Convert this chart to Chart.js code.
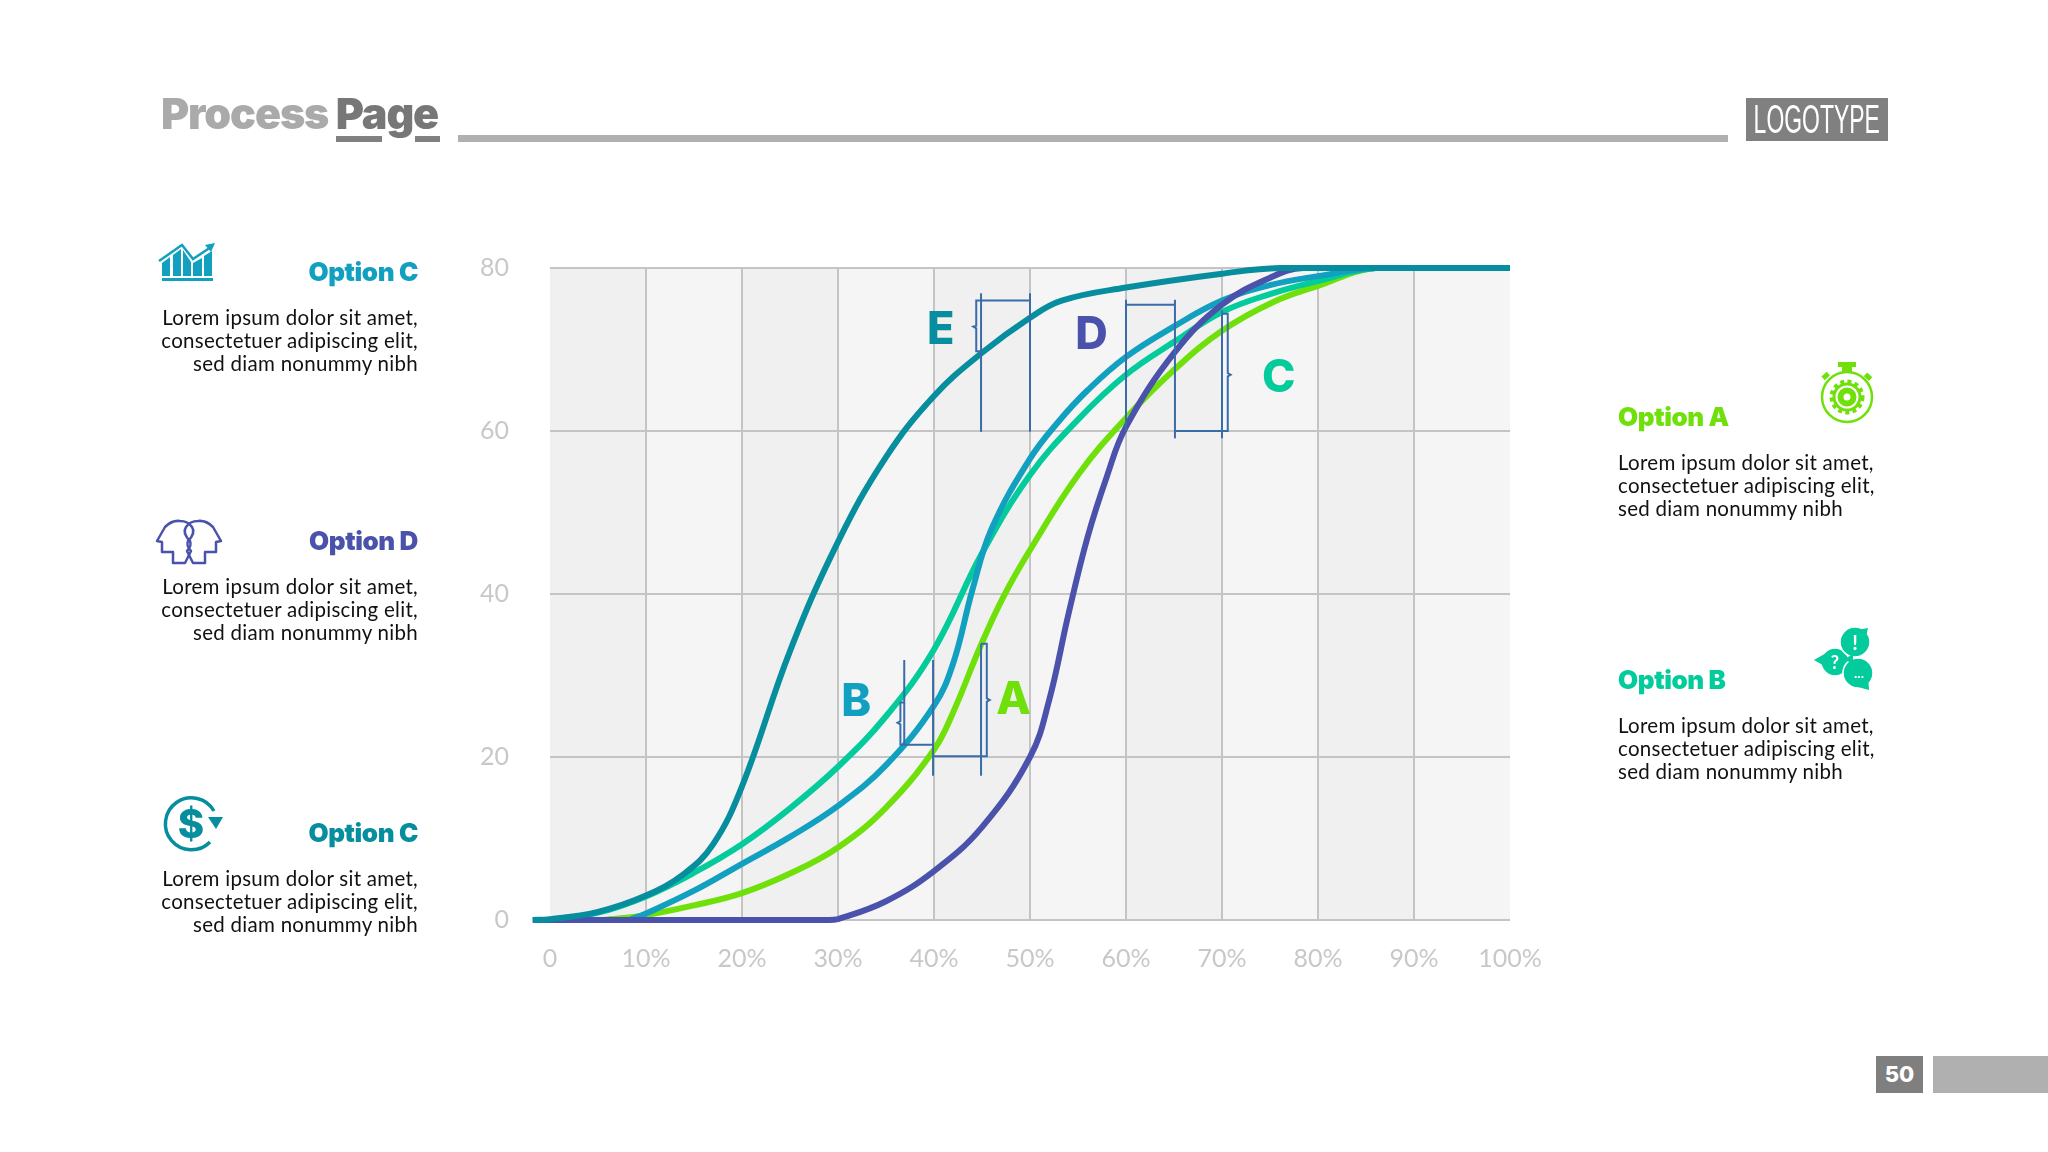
<!DOCTYPE html>
<html>
<head>
<meta charset="utf-8">
<title>Process Page</title>
<script src="https://cdn.jsdelivr.net/npm/chart.js@4/dist/chart.umd.min.js"></script>
<style>
  html, body { margin: 0; padding: 0; background: #fff; }
  #page { position: relative; width: 2048px; height: 1152px; overflow: hidden; font-family: Lato, sans-serif; }
  #chart { position: absolute; left: 0; top: 0; }
  #art { position: absolute; left: 0; top: 0; }
  .box { position: absolute; }
  .title { left: 161px; top: 88px; font-family: Inter, sans-serif; font-size: 43px; font-weight: 900; line-height: 50px; letter-spacing: -1.1px; color: #aaa; white-space: pre; }
  .title b { color: #777; font-weight: 900; }
  .logo { left: 1746px; top: 98px; width: 142px; height: 43px; background: #808080; color: #fff; display: flex; justify-content: center; align-items: center; overflow: hidden; }
  .logo span { font-family: "Liberation Sans", sans-serif; font-size: 41px; white-space: nowrap; transform: scaleX(0.56); }
  .num { left: 1876px; top: 1056px; width: 47px; height: 37px; line-height: 37px; background: #7f7f7f; color: #fff; font-family: Inter, sans-serif; font-size: 22px; font-weight: 800; text-align: center; }
  .bar { left: 1933px; top: 1056px; width: 115px; height: 37px; background: #b0b0b0; }
  .note { width: 320px; }
  .note h3 { margin: 0 0 18px; font-family: Inter, sans-serif; font-size: 26px; line-height: 32px; font-weight: 900; letter-spacing: -0.4px; }
  .note p { margin: 0; font-size: 20.5px; line-height: 23px; color: #111; letter-spacing: 0.28px; white-space: pre; }
  .left { left: 98px; text-align: right; }
  .right { left: 1618px; }
</style>
</head>
<body>
<div id="page">
  <canvas id="chart" width="2048" height="1152"></canvas>

  <svg id="art" width="2048" height="1152" viewBox="0 0 2048 1152">
    <!-- header rule and the underline under Page -->
    <rect x="458" y="135" width="1270" height="7" fill="#b0b0b0"/>
    <rect x="336" y="136" width="46" height="6" fill="#808080"/>
    <rect x="415" y="136" width="25" height="6" fill="#808080"/>

    <!-- bars icon -->
    <g fill="#12a0c0">
      <polygon points="162,263 170,257 170,276 162,276"/>
      <polygon points="173,255 181,249 181,276 173,276"/>
      <polygon points="183,250 191,262 191,276 183,276"/>
      <polygon points="193,263 202,258 202,276 193,276"/>
      <polygon points="204,256 212,251 212,276 204,276"/>
      <rect x="162" y="278" width="51" height="3"/>
      <polyline points="159,261 182,245 193,259 211,247" fill="none" stroke="#12a0c0" stroke-width="2.5"/>
      <polygon points="215,243 205,245 211,252"/>
    </g>

    <!-- heads icon -->
    <g fill="none" stroke="#4a52ab" stroke-width="2.5" stroke-linejoin="round">
      <path id="head" d="M173,563 V552 H162 V542 L157,541 L165,527 Q172,520 180,521 Q188,521 192,527 Q196,533 188,541 Q186,546 191,551 L185,563 Z"/>
      <use href="#head" transform="translate(378,0) scale(-1,1)"/>
    </g>

    <!-- dollar icon -->
    <g>
      <path d="M214,811 A26,26 0 1 0 210,842" fill="none" stroke="#068e9e" stroke-width="3.5"/>
      <polygon points="208,817 223,817 216,829" fill="#068e9e"/>
      <text x="191" y="838" text-anchor="middle" font-family="Inter" font-weight="800" font-size="40" fill="#068e9e">$</text>
    </g>

    <!-- stopwatch icon -->
    <g>
      <circle cx="1847" cy="397" r="25" fill="none" stroke="#6fe00a" stroke-width="2.5"/>
      <rect x="1838" y="362" width="18" height="5" fill="#6fe00a"/>
      <rect x="1842" y="367" width="10" height="6" fill="#6fe00a"/>
      <rect x="1822" y="374" width="7" height="5" transform="rotate(-42 1825 376)" fill="#6fe00a"/>
      <rect x="1865" y="374" width="7" height="5" transform="rotate(42 1868 376)" fill="#6fe00a"/>
      <circle cx="1847" cy="397" r="15.5" fill="none" stroke="#6fe00a" stroke-width="4" stroke-dasharray="4 3.3"/>
      <circle cx="1847" cy="397" r="14.5" fill="#6fe00a"/>
      <circle cx="1847" cy="397" r="10.5" fill="none" stroke="#fff" stroke-width="2"/>
      <circle cx="1847" cy="397" r="3.5" fill="#fff"/>
    </g>

    <!-- speech bubbles icon -->
    <g fill="#03cb9b" stroke="#fff" stroke-width="1.5">
      <circle cx="1835" cy="662" r="14"/>
      <circle cx="1855" cy="642" r="15"/>
      <circle cx="1858" cy="673" r="15"/>
      <g stroke="none">
        <polygon points="1814,660 1828,652 1828,668"/>
        <polygon points="1868,628 1852,631 1865,642"/>
        <polygon points="1869,690 1854,686 1868,676"/>
        <polygon points="1843,660 1853,654 1853,663"/>
      </g>
    </g>
    <g fill="#fff" font-family="Lato" font-weight="700" text-anchor="middle">
      <text x="1855" y="650" font-size="20">!</text>
      <text x="1835" y="669" font-size="18">?</text>
      <text x="1859" y="678" font-size="14">...</text>
    </g>
  </svg>

  <div class="box title">Process <b>Page</b></div>
  <div class="box logo"><span>LOGOTYPE</span></div>
  <div class="box num">50</div>
  <div class="box bar"></div>

  <div class="box note left" style="top:256px"><h3 style="color:#12a0c0">Option C</h3><p>Lorem ipsum dolor sit amet,
consectetuer adipiscing elit,
sed diam nonummy nibh</p></div>
  <div class="box note left" style="top:525px"><h3 style="color:#4a52ab">Option D</h3><p>Lorem ipsum dolor sit amet,
consectetuer adipiscing elit,
sed diam nonummy nibh</p></div>
  <div class="box note left" style="top:817px"><h3 style="color:#068e9e">Option C</h3><p>Lorem ipsum dolor sit amet,
consectetuer adipiscing elit,
sed diam nonummy nibh</p></div>
  <div class="box note right" style="top:401px"><h3 style="color:#6fe00a">Option A</h3><p>Lorem ipsum dolor sit amet,
consectetuer adipiscing elit,
sed diam nonummy nibh</p></div>
  <div class="box note right" style="top:664px"><h3 style="color:#03cb9b">Option B</h3><p>Lorem ipsum dolor sit amet,
consectetuer adipiscing elit,
sed diam nonummy nibh</p></div>
</div>

<script>
// values, x is %, y is the 0-80 axis
const xTickLabels = ["0", "10%", "20%", "30%", "40%", "50%", "60%", "70%", "80%", "90%", "100%"];
const yTickValues = [0, 20, 40, 60, 80];

const limeX = [5.5, 10, 15, 20, 25, 30, 35, 40, 42, 44.8, 47.2, 50, 55, 60, 65.1, 70, 75.3, 80, 86, 100];
const limeY = [0, 0.6, 1.8, 3.3, 5.7, 8.9, 13.8, 20.9, 25.5, 33.5, 39.6, 45.4, 54.6, 61.6, 67.6, 72.3, 75.8, 77.8, 80, 80];

const mintX = [0, 5, 10, 15, 20, 25, 30, 35, 40, 45, 50, 55, 60, 65.1, 70, 75, 80, 86, 100];
const mintY = [0, 0.9, 2.9, 5.8, 9.3, 13.7, 18.8, 25, 33.2, 45, 54.6, 61.4, 66.9, 71, 74.6, 76.8, 78.4, 80, 80];

const cyanX = [8.3, 10, 15, 20, 25, 30, 35, 40, 42, 44, 46, 50, 53, 56, 60, 65.1, 70, 75, 80, 86, 100];
const cyanY = [0, 0.8, 3.6, 6.9, 10.2, 14, 19, 26.3, 31.5, 40.5, 48, 56.6, 61.2, 65, 69.1, 72.9, 76, 77.9, 79, 80, 80];

const indigoX = [-1.8, 15, 29, 30, 35, 40, 45, 50, 52, 54, 56, 58, 60, 65.1, 70, 75, 78.5, 100];
const indigoY = [0, 0, 0, 0.1, 2.3, 6, 11.4, 20, 27, 37.5, 47, 54.4, 60.5, 69.7, 75.5, 78.8, 80, 80];

const tealX = [-1.8, 0, 5, 10, 14, 17, 20, 25, 30, 35, 40, 45, 50, 53.3, 60, 70, 76, 100];
const tealY = [0, 0.1, 1, 3, 5.7, 9.3, 16.4, 33, 46.4, 56.8, 64.3, 69.6, 73.9, 76, 77.6, 79.3, 80, 80];

// bracket lines on the chart, in axis values
const bracketLines = [
  [[44.9, 76.9], [44.9, 59.9]], [[50, 76.9], [50, 59.9]], [[44.9, 76], [50, 76]],
  [[44.9, 76], [44.4, 76], [44.4, 72.9], [44.1, 72.8], [44.4, 72.6], [44.4, 69.8], [44.9, 69.8]],
  [[60, 76.1], [60, 60]], [[65.1, 76.1], [65.1, 59.1]], [[60, 75.5], [65.1, 75.5]], [[65.1, 60], [70, 60]],
  [[70, 74.8], [70, 59.1]],
  [[70, 74.4], [70.6, 74.4], [70.6, 67.1], [70.9, 66.9], [70.6, 66.7], [70.6, 60], [70, 60]],
  [[36.9, 31.9], [36.9, 21.5]], [[39.9, 31.9], [39.9, 17.7]], [[36.9, 21.5], [39.9, 21.5]],
  [[36.9, 26.7], [36.5, 26.7], [36.5, 24.4], [36.2, 24.2], [36.5, 24], [36.5, 21.5], [36.9, 21.5]],
  [[44.9, 33.9], [44.9, 17.7]], [[39.9, 20.1], [44.9, 20.1]],
  [[44.9, 33.9], [45.5, 33.9], [45.5, 27.2], [45.8, 27], [45.5, 26.8], [45.5, 20.1], [44.9, 20.1]],
];
const letterNames = ["A", "B", "C", "D", "E"];
const letterX = [48.3, 31.9, 75.9, 56.4, 40.7];
const letterY = [26.9, 26.7, 66.4, 71.7, 72.3];
const letterColors = ["#6fe00a", "#12a0c0", "#03cb9b", "#4a52ab", "#068e9e"];

const toPoints = (xs, ys) => xs.map((x, i) => ({ x: x, y: ys[i] }));

function series(label, xs, ys, color) {
  return {
    label: label,
    data: toPoints(xs, ys),
    borderColor: color,
    borderWidth: 6,
    pointRadius: 0,
    tension: 0.4,
    clip: false,
  };
}

// grey stripes behind the grid, every other 10%
const stripes = {
  id: "stripes",
  beforeDraw(chart) {
    const { ctx, chartArea, scales } = chart;
    for (let i = 0; i < 10; i++) {
      const a = scales.x.getPixelForValue(i * 10);
      const b = scales.x.getPixelForValue(i * 10 + 10);
      ctx.fillStyle = i % 2 === 0 ? "#f0f0f0" : "#f5f5f5";
      ctx.fillRect(a, chartArea.top, b - a, chartArea.bottom - chartArea.top);
    }
  },
};

// brackets and the letters A-E on top of the curves
const marks = {
  id: "marks",
  afterDatasetsDraw(chart) {
    const { ctx, scales } = chart;
    ctx.save();
    ctx.strokeStyle = "#3a6ca8";
    ctx.lineWidth = 2;
    bracketLines.forEach((line) => {
      ctx.beginPath();
      line.forEach((p, i) => {
        const px = scales.x.getPixelForValue(p[0]);
        const py = scales.y.getPixelForValue(p[1]);
        if (i === 0) ctx.moveTo(px, py);
        else ctx.lineTo(px, py);
      });
      ctx.stroke();
    });
    ctx.font = "800 45px Inter";
    ctx.textAlign = "center";
    ctx.textBaseline = "middle";
    letterNames.forEach((name, i) => {
      ctx.fillStyle = letterColors[i];
      ctx.fillText(name, scales.x.getPixelForValue(letterX[i]), scales.y.getPixelForValue(letterY[i]));
    });
    ctx.restore();
  },
};

new Chart(document.getElementById("chart"), {
  type: "line",
  data: {
    // chart.js paints the first dataset last, so the teal curve stays on top
    datasets: [
      series("Option E", tealX, tealY, "#068e9e"),
      series("Option D", indigoX, indigoY, "#4a52ab"),
      series("Option C", cyanX, cyanY, "#12a0c0"),
      series("Option B", mintX, mintY, "#03cb9b"),
      series("Option A", limeX, limeY, "#6fe00a"),
    ],
  },
  options: {
    responsive: false,
    animation: false,
    devicePixelRatio: 1,
    layout: { padding: { left: 0, right: 538, top: 268, bottom: 0 } },
    plugins: { legend: { display: false }, tooltip: { enabled: false } },
    scales: {
      x: {
        type: "linear",
        min: 0,
        max: 100,
        afterFit: (s) => { s.height = 232; },
        afterBuildTicks: (s) => { s.ticks = xTickLabels.map((_, i) => ({ value: i * 10 })); },
        border: { display: false },
        grid: {
          drawTicks: false,
          lineWidth: 2,
          color: (c) => (c.tick.value === 0 || c.tick.value === 100 ? "transparent" : "#c4c4c4"),
        },
        ticks: {
          padding: 24,
          maxRotation: 0,
          autoSkip: false,
          color: "#c8c8c8",
          font: { family: "Lato", size: 25 },
          callback: (v, i) => xTickLabels[i],
        },
      },
      y: {
        min: 0,
        max: 80,
        afterFit: (s) => { s.width = 550; },
        afterBuildTicks: (s) => { s.ticks = yTickValues.map((v) => ({ value: v })); },
        border: { display: false },
        grid: { drawTicks: false, lineWidth: 2, color: "#c4c4c4" },
        ticks: {
          padding: 41,
          color: "#c8c8c8",
          font: { family: "Lato", size: 25 },
        },
      },
    },
  },
  plugins: [stripes, marks],
});
</script>
</body>
</html>
